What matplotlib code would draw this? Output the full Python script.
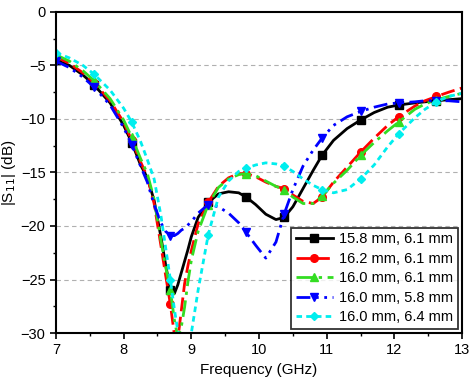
import numpy as np
import matplotlib
matplotlib.use('Agg')
import matplotlib.pyplot as plt

plt.rcParams['font.family'] = ['Liberation Sans', 'DejaVu Sans']

freq = [7.0, 7.2, 7.4, 7.56, 7.8, 8.0, 8.12, 8.25, 8.35, 8.45, 8.55, 8.62, 8.69,
        8.75, 8.8, 8.85, 8.9, 8.95, 9.0, 9.1, 9.25, 9.4, 9.55, 9.7, 9.81, 9.95,
        10.1, 10.25, 10.37, 10.5, 10.65, 10.8, 10.93, 11.1, 11.3, 11.5, 11.7,
        11.9, 12.06, 12.3, 12.45, 12.62, 12.8, 13.0]
# frequencies that carry a symbol
mark_freq = [7.0, 7.56, 8.12, 8.69, 9.25, 9.81, 10.37, 10.93, 11.5, 12.06, 12.62]

s11_158_61 = [-4.5, -5.0, -5.9, -6.8, -8.5, -10.6, -12.2, -14.3, -15.5, -17.6, -21.0,
              -23.6, -26.0, -26.3, -25.5, -24.4, -23.3, -22.2, -21.0, -19.2, -17.8,
              -17.0, -16.8, -16.9, -17.3, -18.0, -18.9, -19.4, -19.2, -18.2, -16.5,
              -14.8, -13.4, -12.0, -10.9, -10.1, -9.4, -8.9, -8.7, -8.5, -8.4, -8.3,
              -8.2, -8.1]
s11_162_61 = [-4.2, -4.8, -5.7, -6.6, -8.3, -10.3, -12.0, -14.0, -15.4, -17.9, -21.8,
              -24.6, -27.3, -30.2, -30.6, -28.0, -25.4, -23.7, -22.3, -19.8, -17.8,
              -16.3, -15.5, -15.1, -15.1, -15.4, -15.9, -16.3, -16.5, -17.1, -17.7,
              -17.9, -17.3, -15.9, -14.5, -13.1, -11.8, -10.6, -9.8, -8.8, -8.3,
              -7.9, -7.5, -7.1]
s11_160_61 = [-4.0, -4.6, -5.5, -6.4, -8.1, -10.1, -11.7, -13.7, -15.1, -17.5, -21.3,
              -23.8, -26.0, -28.8, -30.4, -29.5, -27.6, -25.2, -23.2, -20.5, -18.0,
              -16.4, -15.6, -15.2, -15.1, -15.3, -15.8, -16.3, -16.6, -17.3, -17.9,
              -17.9, -17.2, -16.0, -14.8, -13.4, -12.2, -11.1, -10.3, -9.1, -8.6,
              -8.2, -7.9, -7.6]
s11_160_58 = [-4.6, -5.2, -6.1, -7.0, -8.7, -10.8, -12.4, -14.4, -15.9, -18.0, -19.7,
              -20.5, -20.9, -20.9, -20.7, -20.4, -20.2, -19.9, -19.6, -18.8, -18.0,
              -18.2, -18.8, -19.7, -20.6, -21.8, -23.0, -21.5, -18.9, -16.6, -14.4,
              -12.9, -11.8, -10.6, -9.8, -9.3, -8.9, -8.6, -8.5, -8.4, -8.3, -8.3,
              -8.3, -8.4]
s11_160_64 = [-3.8, -4.3, -5.0, -5.8, -7.3, -9.0, -10.3, -12.1, -13.8, -15.6, -19.0,
              -22.0, -25.0, -27.8, -29.8, -31.0, -31.5, -31.2, -30.0, -26.0, -20.8,
              -17.3, -15.8, -14.9, -14.6, -14.3, -14.1, -14.2, -14.4, -14.9, -15.6,
              -16.2, -16.6, -16.9, -16.6, -15.6, -14.3, -12.6, -11.4, -9.9, -9.1,
              -8.4, -7.9, -7.6]

labels = ['15.8 mm, 6.1 mm', '16.2 mm, 6.1 mm', '16.0 mm, 6.1 mm',
          '16.0 mm, 5.8 mm', '16.0 mm, 6.4 mm']
series = [s11_158_61, s11_162_61, s11_160_61, s11_160_58, s11_160_64]
colors = ['black', '#ff0000', '#33dd22', '#0000ff', '#00eeee']
markers = ['s', 'o', '^', 'v', 'D']
styles = ['-', (0, (5, 2)), (0, (6, 2, 1.2, 2)), (0, (5, 2, 1, 2, 1, 2)), (0, (2, 1.5))]

marks = [i for i, f in enumerate(freq) if f in mark_freq]

fig, ax = plt.subplots(figsize=(4.74, 3.85), dpi=100)
fig.subplots_adjust(left=0.118, right=0.975, bottom=0.135, top=0.969)

for y, c, m, ls, lab in zip(series, colors, markers, styles, labels):
    ax.plot(freq, y, color=c, ls=ls, lw=2, marker=m, ms=5.5 if m != 'D' else 4.5,
            markevery=marks, label=lab)

ax.set_xlim(7, 13)
ax.set_ylim(-30, 0)
ax.set_xticks(range(7, 14))
ax.set_yticks(range(-30, 1, 5))
ax.set_xticks(np.arange(7.5, 13, 1), minor=True)
ax.set_yticks(np.arange(-27.5, 0, 5), minor=True)
for g in range(-25, 0, 5):
    ax.axhline(g, color='#b0b0b0', lw=0.8, ls=(0, (4, 3)), zorder=0)
ax.tick_params(which='major', direction='out', length=4, width=1.2, labelsize=10.5)
ax.tick_params(which='minor', direction='out', length=2.5, width=1)
for sp in ax.spines.values():
    sp.set_linewidth(1.5)

ax.set_xlabel('Frequency (GHz)', fontsize=11)
ax.set_ylabel('|S$_{11}$| (dB)', fontsize=11, labelpad=2)

leg = ax.legend(loc='lower right', fontsize=10.5, frameon=True, fancybox=False,
                edgecolor='black', handlelength=2.6, labelspacing=0.38,
                borderpad=0.3, handletextpad=0.4, borderaxespad=0.3)
leg.get_frame().set_linewidth(1.3)

fig.savefig('out.png', dpi=100)
